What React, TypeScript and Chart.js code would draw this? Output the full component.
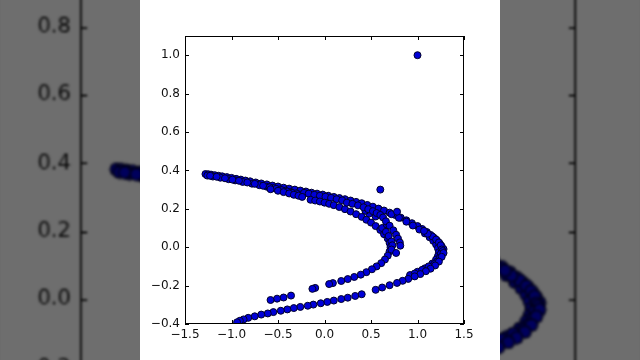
import React, { useEffect, useRef } from "react";
import { Chart, registerables } from "chart.js";

Chart.register(...registerables);

const xTickValues = [-1.5, -1.0, -0.5, 0.0, 0.5, 1.0, 1.5];
const yTickValues = [-0.4, -0.2, 0.0, 0.2, 0.4, 0.6, 0.8, 1.0];

const startPoints: [number, number][] = [
  [1.0, 1.0], [0.6, 0.3], [0.78, 0.185],
];

const upperBandTop: [number, number][] = [
  [-1.28, 0.381], [-1.25, 0.380], [-1.22, 0.378], [-1.18, 0.375], [-1.14, 0.372], [-1.10, 0.369],
  [-1.05, 0.365], [-1.00, 0.361], [-0.95, 0.356], [-0.90, 0.352], [-0.85, 0.347], [-0.80, 0.343],
  [-0.74, 0.337], [-0.68, 0.332], [-0.62, 0.327], [-0.56, 0.321], [-0.50, 0.316], [-0.44, 0.310],
  [-0.38, 0.305], [-0.32, 0.300], [-0.26, 0.295], [-0.20, 0.290], [-0.14, 0.284], [-0.08, 0.279],
  [-0.02, 0.274], [0.04, 0.268], [0.10, 0.262], [0.16, 0.256], [0.22, 0.250], [0.28, 0.243],
  [0.34, 0.236], [0.40, 0.229], [0.46, 0.220], [0.52, 0.211], [0.58, 0.201], [0.64, 0.191],
  [0.70, 0.180], [0.76, 0.168], [0.82, 0.154], [0.88, 0.140], [0.94, 0.125], [1.00, 0.110],
  [1.05, 0.095], [1.10, 0.079], [1.14, 0.064], [1.18, 0.048], [1.21, 0.034], [1.24, 0.018],
  [1.26, 0.005], [1.28, -0.010],
];

const upperBandMiddle: [number, number][] = [
  [-1.26, 0.373], [-1.20, 0.368], [-1.12, 0.362], [-1.03, 0.354], [-0.96, 0.348], [-0.88, 0.340],
  [-0.78, 0.331], [-0.70, 0.323], [-0.62, 0.315], [-0.55, 0.308], [-0.48, 0.300], [-0.42, 0.294],
  [-0.36, 0.287], [-0.30, 0.281], [-0.24, 0.275],
];

const upperBandFill: [number, number][] = [
  [-1.23, 0.372], [-1.16, 0.367], [-1.07, 0.359], [-0.99, 0.352], [-0.92, 0.346], [-0.83, 0.337],
  [-0.75, 0.330], [-0.66, 0.320], [-0.59, 0.312], [-0.52, 0.304], [-0.46, 0.297], [-0.40, 0.290],
  [-0.35, 0.283], [-0.29, 0.276], [-0.22, 0.283], [-0.17, 0.279], [-0.11, 0.273], [-0.05, 0.268],
  [0.01, 0.263], [0.07, 0.257], [0.13, 0.250], [0.19, 0.244],
];

const upperBandLow: [number, number][] = [
  [-0.58, 0.302], [-0.50, 0.294], [-0.44, 0.287], [-0.38, 0.280], [-0.33, 0.273], [-0.28, 0.268],
  [-0.24, 0.262],
];

const innerCurve: [number, number][] = [
  [-0.15, 0.247], [-0.10, 0.243], [-0.05, 0.238], [0.00, 0.232], [0.05, 0.226], [0.10, 0.219],
  [0.16, 0.209], [0.22, 0.198], [0.28, 0.186], [0.34, 0.172], [0.40, 0.158], [0.45, 0.143],
  [0.50, 0.128], [0.55, 0.110], [0.60, 0.090], [0.64, 0.068], [0.68, 0.045], [0.70, 0.022],
  [0.71, 0.000], [0.70, -0.022], [0.68, -0.044], [0.65, -0.064], [0.61, -0.083], [0.56, -0.100],
  [0.51, -0.115], [0.45, -0.130], [0.39, -0.143], [0.32, -0.155], [0.25, -0.166], [0.18, -0.176],
  [0.09, -0.187], [0.05, -0.192], [-0.10, -0.212], [-0.13, -0.217], [-0.36, -0.252], [-0.44, -0.262],
  [-0.51, -0.268], [-0.58, -0.275],
];

const innerFill: [number, number][] = [
  [0.62, 0.100], [0.66, 0.080], [0.69, 0.058], [0.72, 0.030], [0.73, 0.010], [0.72, -0.012],
  [0.67, 0.118], [0.55, 0.160], [0.48, 0.175], [0.44, 0.190],
];

const secondThread: [number, number][] = [
  [0.24, 0.232], [0.30, 0.226], [0.36, 0.218], [0.42, 0.208], [0.47, 0.198], [0.52, 0.188],
  [0.56, 0.178], [0.60, 0.168], [0.63, 0.155], [0.66, 0.135], [0.70, 0.112], [0.74, 0.088],
  [0.77, 0.065], [0.79, 0.045], [0.81, 0.025], [0.815, 0.008], [0.77, -0.030],
];

const outerInnerLayer: [number, number][] = [
  [0.72, 0.172], [0.80, 0.153], [0.88, 0.133], [0.95, 0.113], [1.02, 0.092], [1.08, 0.072],
  [1.13, 0.052], [1.17, 0.033], [1.20, 0.014], [1.22, -0.006], [1.23, -0.026], [1.22, -0.046],
  [1.20, -0.064], [1.16, -0.085], [1.08, -0.110], [1.00, -0.128], [0.92, -0.145],
];

const outerTipFill: [number, number][] = [
  [1.16, 0.056], [1.20, 0.040], [1.23, 0.025], [1.25, 0.010], [1.26, -0.012], [1.27, -0.020],
  [1.25, -0.035], [1.24, -0.055], [1.21, -0.075], [1.18, -0.088], [1.12, -0.100], [1.05, -0.118],
  [0.97, -0.137], [1.11, 0.070], [1.07, 0.085],
];

const outerLower: [number, number][] = [
  [1.28, -0.030], [1.26, -0.050], [1.23, -0.075], [1.19, -0.095], [1.14, -0.112], [1.09, -0.125],
  [1.03, -0.140], [0.97, -0.152], [0.90, -0.165], [0.84, -0.175], [0.78, -0.186], [0.70, -0.198],
  [0.62, -0.210], [0.55, -0.222], [0.40, -0.245], [0.33, -0.254], [0.25, -0.263], [0.18, -0.270],
  [0.10, -0.278], [0.03, -0.285], [-0.04, -0.292], [-0.12, -0.299], [-0.18, -0.305], [-0.26, -0.311],
  [-0.33, -0.317], [-0.40, -0.324], [-0.47, -0.331], [-0.55, -0.338], [-0.61, -0.345], [-0.68, -0.351],
  [-0.75, -0.360], [-0.82, -0.368], [-0.87, -0.376], [-0.91, -0.383], [-0.94, -0.391],
];

const allPoints = [
  ...upperBandTop, ...upperBandMiddle, ...upperBandFill, ...upperBandLow, ...innerCurve,
  ...innerFill, ...secondThread, ...outerInnerLayer, ...outerTipFill, ...outerLower, ...startPoints,
];

function fmt(v: number): string {
  return v.toFixed(1).replace("-", "\u2212");
}

const framePlugin = {
  id: "mplFrame",
  afterDraw(chart: any) {
    const { ctx, chartArea } = chart;
    const { left, right, top, bottom } = chartArea;
    const xs = chart.scales.x;
    const ys = chart.scales.y;
    const tl = 4;
    ctx.save();
    ctx.strokeStyle = "#000";
    ctx.lineWidth = 1;
    ctx.beginPath();
    for (const v of xTickValues) {
      const px = Math.round(xs.getPixelForValue(v)) + 0.5;
      ctx.moveTo(px, bottom);
      ctx.lineTo(px, bottom - tl);
      ctx.moveTo(px, top);
      ctx.lineTo(px, top + tl);
    }
    for (const v of yTickValues) {
      const py = Math.round(ys.getPixelForValue(v)) + 0.5;
      ctx.moveTo(left, py);
      ctx.lineTo(left + tl, py);
      ctx.moveTo(right, py);
      ctx.lineTo(right - tl, py);
    }
    ctx.stroke();
    ctx.strokeRect(left + 0.5, top + 0.5, right - left - 1, bottom - top - 1);
    ctx.restore();
  },
};

function Frame() {
  const ref = useRef<HTMLCanvasElement>(null);
  useEffect(() => {
    const chart = new Chart(ref.current as HTMLCanvasElement, {
      type: "scatter",
      data: {
        datasets: [
          {
            data: allPoints.map(([x, y]) => ({ x, y })),
            backgroundColor: "#0000d8",
            borderColor: "#00002a",
            borderWidth: 1,
            pointRadius: 3.5,
            clip: 0,
          } as any,
        ],
      },
      options: {
        animation: false,
        responsive: false,
        devicePixelRatio: 1,
        layout: { padding: { top: 36, right: 36, bottom: 0, left: 0 } },
        plugins: { legend: { display: false }, tooltip: { enabled: false } },
        scales: {
          x: {
            type: "linear",
            min: -1.5,
            max: 1.5,
            grid: { display: false, drawTicks: false },
            border: { display: false },
            afterBuildTicks: (s: any) => {
              s.ticks = xTickValues.map((v) => ({ value: v }));
            },
            afterFit: (s: any) => {
              s.height = 36;
            },
            ticks: {
              callback: (v: any) => fmt(Number(v)),
              color: "#111",
              padding: 4,
              maxRotation: 0,
              autoSkip: false,
              font: { family: "DejaVu Sans", size: 12 },
            },
          },
          y: {
            type: "linear",
            min: -0.4,
            max: 1.1,
            grid: { display: false, drawTicks: false },
            border: { display: false },
            afterBuildTicks: (s: any) => {
              s.ticks = yTickValues.map((v) => ({ value: v }));
            },
            afterFit: (s: any) => {
              s.width = 45;
            },
            ticks: {
              callback: (v: any) => fmt(Number(v)),
              color: "#111",
              padding: 5,
              autoSkip: false,
              font: { family: "DejaVu Sans", size: 12 },
            },
          },
        },
      },
      plugins: [framePlugin],
    });
    return () => chart.destroy();
  }, []);
  return (
    <div style={{ width: 360, height: 360, background: "#fff" }}>
      <canvas ref={ref} width={360} height={360} style={{ width: 360, height: 360, display: "block" }} />
    </div>
  );
}

export default function App() {
  return (
    <div
      style={{
        position: "fixed",
        left: 0,
        top: 0,
        width: 640,
        height: 360,
        overflow: "hidden",
        background: "#6b6b6b",
      }}
    >
      <div
        style={{
          position: "absolute",
          left: 140,
          top: 0,
          width: 360,
          height: 360,
          transform: "scale(1.7778)",
          transformOrigin: "180px 180px",
          filter: "blur(0.6px) brightness(0.43)",
        }}
      >
        <Frame />
      </div>
      <div style={{ position: "absolute", left: 140, top: 0, width: 360, height: 360 }}>
        <Frame />
      </div>
    </div>
  );
}
